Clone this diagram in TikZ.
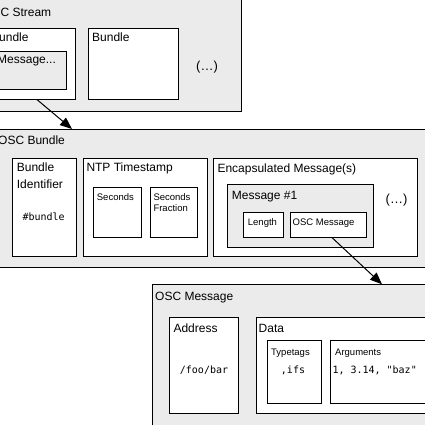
\documentclass[tikz,border=0pt]{standalone}
\usepackage{fontspec}
\setmainfont{Liberation Sans}
\setmonofont{DejaVu Sans Mono}
\usetikzlibrary{arrows.meta}
\definecolor{bg}{RGB}{235,235,235}
\tikzset{
  box/.style={draw=black, line width=0.9pt, fill=white, inner sep=0pt, anchor=north west},
  graybox/.style={box, fill=bg},
  big/.style={inner sep=0pt, anchor=base west, font=\fontsize{12}{14}\selectfont},
  small/.style={inner sep=0pt, anchor=base west, font=\fontsize{9.5}{11}\selectfont},
  code/.style={inner sep=0pt, anchor=base, font=\fontsize{10}{12}\selectfont\ttfamily},
  more/.style={inner sep=0pt, font=\fontsize{13}{15}\selectfont},
  arr/.style={line width=1pt, -{Triangle[length=12pt, width=9.5pt]}}
}
\begin{document}
\begin{tikzpicture}[x=1pt, y=-1pt]
\useasboundingbox (0,0) rectangle (425,425);
\clip (0,0) rectangle (425,425);
% OSC Stream
\node[graybox, minimum width=261pt, minimum height=131pt] (stream) at (-20,-20) {};
\node[big] (lstream) at (-17,17) {OSC Stream};
\node[box, minimum width=95.3pt, minimum height=71pt] (bundleA) at (-20,27.7) {};
\node[big] (lbundleA) at (-9,42) {Bundle};
\node[graybox, minimum width=85.7pt, minimum height=38.6pt] (msgdots) at (-20,50.7) {};
\node[big] (lmsgdots) at (-3,64) {Message...};
\node[box, minimum width=90.3pt, minimum height=71pt] (bundleB) at (88,27.7) {};
\node[big] (lbundleB) at (92,42) {Bundle};
\node[more] (moreA) at (207,67) {(…)};
% OSC Bundle
\node[graybox, minimum width=465pt, minimum height=138pt] (oscbundle) at (-20,129) {};
\node[big] (loscbundle) at (-2,144) {OSC Bundle};
\node[box, minimum width=63.4pt, minimum height=97.7pt] (ident) at (12.3,158.3) {};
\node[big] (lident1) at (16.7,171.7) {Bundle};
\node[big] (lident2) at (16.7,188.3) {Identifier};
\node[code] (hash) at (43.7,220.7) {\#bundle};
\node[box, minimum width=123.4pt, minimum height=97.7pt] (ntp) at (83.3,158.3) {};
\node[big] (lntp) at (86.3,171.7) {NTP Timestamp};
\node[box, minimum width=47.4pt, minimum height=49.4pt] (secs) at (93.3,187.3) {};
\node[small] (lsecs) at (96.7,200) {Seconds};
\node[box, minimum width=46.4pt, minimum height=49.4pt] (frac) at (150.3,187.3) {};
\node[small] (lfrac1) at (153.3,200) {Seconds};
\node[small] (lfrac2) at (153.3,211.7) {Fraction};
\node[box, minimum width=204pt, minimum height=97.7pt] (encap) at (213.3,158.3) {};
\node[big] (lencap) at (217.3,172) {Encapsulated Message(s)};
\node[graybox, minimum width=146pt, minimum height=63pt] (msg1) at (227.3,184.3) {};
\node[big] (lmsg1) at (231.7,199.5) {Message \#1};
\node[box, minimum width=40pt, minimum height=24.4pt] (len) at (243.3,212.3) {};
\node[small] (llen) at (247.7,225) {Length};
\node[box, minimum width=75.7pt, minimum height=24.4pt] (oscmsgsmall) at (290,212.3) {};
\node[small] (loscmsgsmall) at (292.5,225) {OSC Message};
\node[more] (moreB) at (396.5,200) {(…)};
% OSC Message
\node[graybox, minimum width=293pt, minimum height=161pt] (oscmsg) at (152,284.3) {};
\node[big] (loscmsg) at (155,300.5) {OSC Message};
\node[box, minimum width=68.4pt, minimum height=96.6pt] (addr) at (169.3,316.7) {};
\node[big] (laddr) at (173.3,332.3) {Address};
\node[code] (path) at (204,373.3) {/foo/bar};
\node[box, minimum width=200pt, minimum height=96.6pt] (data) at (255.7,316.7) {};
\node[big] (ldata) at (258.5,332.3) {Data};
\node[box, minimum width=54pt, minimum height=63.3pt] (tt) at (266.7,340) {};
\node[small] (ltt) at (271,355.5) {Typetags};
\node[code] (ifs) at (293,373.3) {,ifs};
\node[box, minimum width=120pt, minimum height=63.3pt] (args) at (330,340) {};
\node[small] (largs) at (335,355.5) {Arguments};
\node[code, anchor=base west] (argv) at (332.3,373.3) {1, 3.14, "baz"};
% connectors
\draw[arr] ([xshift=57pt]bundleA.south west) -- ([xshift=92pt]oscbundle.north west);
\draw[arr] ([xshift=42pt]oscmsgsmall.south west) -- ([xshift=230pt]oscmsg.north west);
\end{tikzpicture}
\end{document}
